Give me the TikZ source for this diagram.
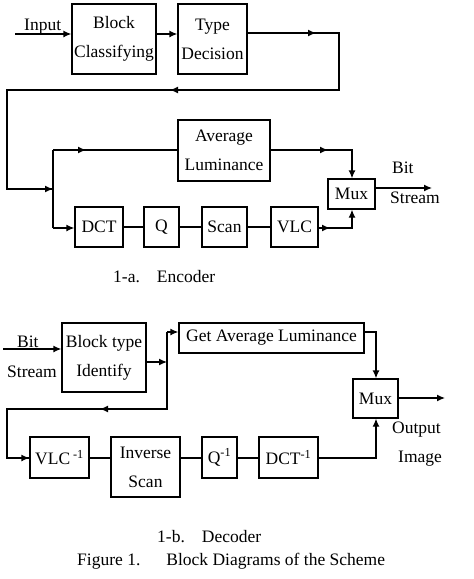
\documentclass[tikz,border=0pt]{standalone}
\usepackage{fontspec}
\setmainfont{Liberation Serif}
\usetikzlibrary{arrows.meta}
\begin{document}
\begin{tikzpicture}[x=1pt,y=-1pt,
  blk/.style={draw, line width=1.3pt, inner sep=0pt, align=center,
    font=\fontsize{17.5}{29}\selectfont},
  lbl/.style={anchor=base west, inner sep=0pt, font=\fontsize{17.5}{21}\selectfont},
  wire/.style={line width=1.3pt},
  arr/.style={wire, -{Latex[length=8pt,width=7pt]}}]
\fill[white] (0,0) rectangle (474,579);
\useasboundingbox (0,0) rectangle (474,579);
% ---------------- Encoder ----------------
\node[blk, minimum width=84pt, minimum height=70pt] (bc) at (114,39) {Block\\Classifying};
\node[blk, minimum width=69pt, minimum height=70pt] (td) at (212.5,39) {Type\\Decision};
\node[blk, minimum width=92pt, minimum height=61pt] (avg) at (224,150.5) {Average\\Luminance};
\node[blk, minimum width=47pt, minimum height=30pt] (mux1) at (351.5,194) {Mux};
\node[blk, minimum width=48pt, minimum height=40pt] (dct) at (99,227) {DCT};
\node[blk, minimum width=35pt, minimum height=40pt] (q) at (161.5,227) {Q};
\node[blk, minimum width=45pt, minimum height=40pt] (scan) at (224.5,227) {Scan};
\node[blk, minimum width=47pt, minimum height=40pt] (vlc) at (294.5,227) {VLC};

\node[lbl] (tin) at (24,30) {Input};
\node[lbl] (tbit1) at (392,173) {Bit};
\node[lbl] (tstr1) at (390,203) {Stream};
\node[lbl] (cap1) at (113,282) {1-a.\hspace{17pt}Encoder};

\coordinate (inS) at (15,34);
\draw[arr] (inS) -- (inS -| bc.west);
\draw[arr] (bc.east |- inS) -- (td.west |- inS);

\coordinate (c1) at (339,33);
\coordinate (c2) at (339,90);
\coordinate (c3) at (7,90);
\coordinate (c4) at (7,189);
\coordinate (br) at (53,189);
\coordinate (brT) at (53,150);
\coordinate (brB) at (53,228);
\coordinate (m1) at (316,33);
\coordinate (m2) at (170,90);
\draw[wire] (td.east |- c1) -- (c1) -- (c2) -- (c3) -- (c4) -- (br);
\draw[arr] (td.east |- c1) -- (m1);
\draw[arr] (c2) -- (m2);
\draw[arr] (c4) -- (br);
\draw[wire] (brT) -- (brB);
\coordinate (m3) at (86,150);
\draw[wire] (brT) -- (avg.west |- brT);
\draw[arr] (brT) -- (m3);
\coordinate (c5) at (352,150);
\coordinate (m4) at (328,150);
\draw[arr] (avg.east |- c5) -- (c5) -- (mux1.north -| c5);
\draw[arr] (avg.east |- c5) -- (m4);
\draw[arr] (brB) -- (brB -| dct.west);
\draw[wire] (dct.east) -- (q.west);
\draw[wire] (q.east) -- (scan.west);
\draw[wire] (scan.east) -- (vlc.west);
\coordinate (c6) at (352,228);
\coordinate (m5) at (330,228);
\draw[arr] (vlc.east |- c6) -- (c6) -- (mux1.south -| c6);
\draw[arr] (vlc.east |- c6) -- (m5);
\coordinate (o1) at (432,188);
\draw[arr] (mux1.east |- o1) -- (o1);

% ---------------- Decoder ----------------
\node[blk, minimum width=84pt, minimum height=69pt] (bti) at (104,357.5) {Block type\\Identify};
\node[blk, minimum width=185pt, minimum height=30pt] (gal) at (271.5,338) {Get Average Luminance};
\node[blk, minimum width=45pt, minimum height=39pt] (mux2) at (375.5,398.5) {Mux};
\node[blk, minimum width=59pt, minimum height=41pt] (vlci) at (59.5,457.5) {VLC\,\textsuperscript{-1}};
\node[blk, minimum width=69pt, minimum height=60pt] (iscan) at (145.5,467) {Inverse\\Scan};
\node[blk, minimum width=35pt, minimum height=41pt] (qi) at (219.5,457.5) {Q\textsuperscript{-1}};
\node[blk, minimum width=59pt, minimum height=41pt] (dcti) at (288.5,457.5) {DCT\textsuperscript{-1}};

\node[lbl] (tbit2) at (17,347) {Bit};
\node[lbl] (tstr2) at (7,377) {Stream};
\node[lbl] (tout) at (392,433) {Output};
\node[lbl] (timg) at (398,462) {Image};
\node[lbl] (cap2) at (157,542) {1-b.\hspace{17pt}Decoder};
\node[lbl] (cap3) at (77,565) {Figure 1.\hspace{26pt}Block Diagrams of the Scheme};

\coordinate (bitS) at (3,349);
\draw[arr] (bitS) -- (bitS -| bti.west);
\coordinate (v0) at (167,362);
\coordinate (v1) at (167,332);
\coordinate (v2) at (167,409);
\coordinate (v3) at (7,409);
\coordinate (v4) at (7,458);
\coordinate (m6) at (100,409);
\draw[arr] (bti.east |- v0) -- (v0);
\draw[wire] (v1) -- (v2) -- (v3) -- (v4) -- (vlci.west |- v4);
\draw[arr] (v4) -- (vlci.west |- v4);
\draw[arr] (v2) -- (m6);
\draw[arr] (v1) -- (v1 -| gal.west);
\coordinate (c7) at (376,332);
\draw[arr] (gal.east |- c7) -- (c7) -- (mux2.north -| c7);
\coordinate (o2) at (445,398);
\draw[arr] (mux2.east |- o2) -- (o2);
\draw[wire] (vlci.east |- v4) -- (iscan.west |- v4);
\draw[wire] (iscan.east |- v4) -- (qi.west |- v4);
\draw[wire] (qi.east |- v4) -- (dcti.west |- v4);
\coordinate (c8) at (376,458);
\draw[arr] (dcti.east |- c8) -- (c8) -- (mux2.south -| c8);
\end{tikzpicture}
\end{document}
